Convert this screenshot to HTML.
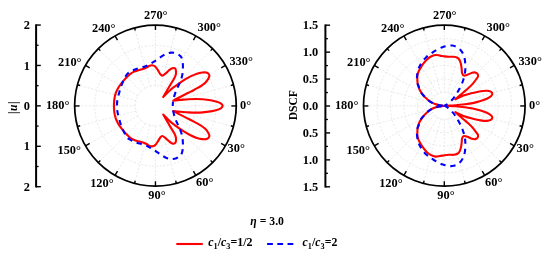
<!DOCTYPE html>
<html lang="en"><head><meta charset="utf-8"><title>Polar plots</title>
<style>html,body{margin:0;padding:0;background:#fff;}body{width:550px;height:256px;overflow:hidden;position:relative;}</style></head>
<body>
<svg width="550" height="256" viewBox="0 0 550 256" style="position:absolute;left:0;top:0;font-family:'Liberation Serif',serif;font-weight:bold;font-size:11.5px;fill:#000">
<rect width="550" height="256" fill="#fff"/>
<g fill="none" stroke="#e0e0e0" stroke-width="0.75" stroke-dasharray="2 1.7"><ellipse cx="155.45" cy="105.80" rx="20.20" ry="20.14"/><ellipse cx="155.45" cy="105.80" rx="40.40" ry="40.27"/><ellipse cx="155.45" cy="105.80" rx="60.60" ry="60.41"/><line x1="175.65" y1="105.80" x2="236.25" y2="105.80"/><line x1="174.96" y1="111.01" x2="233.50" y2="126.65"/><line x1="172.94" y1="115.87" x2="225.42" y2="146.07"/><line x1="169.73" y1="120.04" x2="212.58" y2="162.76"/><line x1="165.55" y1="123.24" x2="195.85" y2="175.56"/><line x1="160.68" y1="125.25" x2="176.36" y2="183.61"/><line x1="155.45" y1="125.94" x2="155.45" y2="186.35"/><line x1="150.22" y1="125.25" x2="134.54" y2="183.61"/><line x1="145.35" y1="123.24" x2="115.05" y2="175.56"/><line x1="141.17" y1="120.04" x2="98.32" y2="162.76"/><line x1="137.96" y1="115.87" x2="85.48" y2="146.07"/><line x1="135.94" y1="111.01" x2="77.40" y2="126.65"/><line x1="135.25" y1="105.80" x2="74.65" y2="105.80"/><line x1="135.94" y1="100.59" x2="77.40" y2="84.95"/><line x1="137.96" y1="95.73" x2="85.48" y2="65.52"/><line x1="141.17" y1="91.56" x2="98.32" y2="48.84"/><line x1="145.35" y1="88.36" x2="115.05" y2="36.04"/><line x1="150.22" y1="86.35" x2="134.54" y2="27.99"/><line x1="155.45" y1="85.66" x2="155.45" y2="25.25"/><line x1="160.68" y1="86.35" x2="176.36" y2="27.99"/><line x1="165.55" y1="88.36" x2="195.85" y2="36.04"/><line x1="169.73" y1="91.56" x2="212.58" y2="48.84"/><line x1="172.94" y1="95.73" x2="225.42" y2="65.52"/><line x1="174.96" y1="100.59" x2="233.50" y2="84.95"/></g>
<g fill="none" stroke="#e0e0e0" stroke-width="0.75" stroke-dasharray="2 1.7"><ellipse cx="444.30" cy="105.80" rx="13.47" ry="13.42"/><ellipse cx="444.30" cy="105.80" rx="26.93" ry="26.85"/><ellipse cx="444.30" cy="105.80" rx="40.40" ry="40.27"/><ellipse cx="444.30" cy="105.80" rx="53.87" ry="53.70"/><ellipse cx="444.30" cy="105.80" rx="67.33" ry="67.12"/><line x1="457.77" y1="105.80" x2="525.10" y2="105.80"/><line x1="457.31" y1="109.27" x2="522.35" y2="126.65"/><line x1="455.96" y1="112.51" x2="514.27" y2="146.07"/><line x1="453.82" y1="115.29" x2="501.43" y2="162.76"/><line x1="451.03" y1="117.43" x2="484.70" y2="175.56"/><line x1="447.79" y1="118.77" x2="465.21" y2="183.61"/><line x1="444.30" y1="119.22" x2="444.30" y2="186.35"/><line x1="440.81" y1="118.77" x2="423.39" y2="183.61"/><line x1="437.57" y1="117.43" x2="403.90" y2="175.56"/><line x1="434.78" y1="115.29" x2="387.17" y2="162.76"/><line x1="432.64" y1="112.51" x2="374.33" y2="146.07"/><line x1="431.29" y1="109.27" x2="366.25" y2="126.65"/><line x1="430.83" y1="105.80" x2="363.50" y2="105.80"/><line x1="431.29" y1="102.33" x2="366.25" y2="84.95"/><line x1="432.64" y1="99.09" x2="374.33" y2="65.52"/><line x1="434.78" y1="96.31" x2="387.17" y2="48.84"/><line x1="437.57" y1="94.17" x2="403.90" y2="36.04"/><line x1="440.81" y1="92.83" x2="423.39" y2="27.99"/><line x1="444.30" y1="92.38" x2="444.30" y2="25.25"/><line x1="447.79" y1="92.83" x2="465.21" y2="27.99"/><line x1="451.03" y1="94.17" x2="484.70" y2="36.04"/><line x1="453.82" y1="96.31" x2="501.43" y2="48.84"/><line x1="455.96" y1="99.09" x2="514.27" y2="65.52"/><line x1="457.31" y1="102.33" x2="522.35" y2="84.95"/></g>
<path d="M163.20 97.10C164.43 95.87 168.63 91.50 170.60 89.70C172.57 87.90 173.57 87.37 175.00 86.30C176.43 85.23 177.45 84.48 179.20 83.30C180.95 82.12 183.62 80.35 185.50 79.20C187.38 78.05 188.60 77.32 190.50 76.40C192.40 75.48 194.93 74.35 196.90 73.70C198.87 73.05 200.74 72.70 202.30 72.50C203.86 72.30 205.20 72.27 206.25 72.50C207.30 72.73 208.07 73.33 208.60 73.90C209.12 74.47 209.47 75.07 209.40 75.90C209.33 76.73 208.85 77.80 208.20 78.90C207.55 80.00 206.60 81.38 205.50 82.50C204.40 83.62 202.78 84.77 201.60 85.60C200.42 86.43 199.68 86.77 198.40 87.50C197.12 88.23 195.57 89.12 193.90 90.00C192.23 90.88 190.62 91.68 188.40 92.80C186.18 93.92 183.13 95.40 180.60 96.70C178.07 98.00 174.43 99.95 173.20 100.60C174.43 100.48 178.07 100.13 180.60 99.90C183.13 99.67 185.83 99.35 188.40 99.20C190.97 99.05 193.60 99.00 196.00 99.00C198.40 99.00 200.37 99.00 202.80 99.20C205.23 99.40 208.25 99.78 210.60 100.20C212.95 100.62 215.20 101.18 216.90 101.70C218.60 102.22 219.83 102.62 220.80 103.30C221.77 103.98 222.70 104.97 222.70 105.80C222.70 106.63 221.77 107.62 220.80 108.30C219.83 108.98 218.60 109.38 216.90 109.90C215.20 110.42 212.95 110.98 210.60 111.40C208.25 111.82 205.23 112.20 202.80 112.40C200.37 112.60 198.40 112.60 196.00 112.60C193.60 112.60 190.97 112.55 188.40 112.40C185.83 112.25 183.13 111.93 180.60 111.70C178.07 111.47 174.43 111.12 173.20 111.00C174.43 111.65 178.07 113.60 180.60 114.90C183.13 116.20 186.18 117.68 188.40 118.80C190.62 119.92 192.23 120.72 193.90 121.60C195.57 122.48 197.12 123.37 198.40 124.10C199.68 124.83 200.42 125.17 201.60 126.00C202.78 126.83 204.40 127.98 205.50 129.10C206.60 130.22 207.55 131.60 208.20 132.70C208.85 133.80 209.33 134.87 209.40 135.70C209.47 136.53 209.12 137.13 208.60 137.70C208.07 138.27 207.30 138.87 206.25 139.10C205.20 139.33 203.86 139.30 202.30 139.10C200.74 138.90 198.87 138.55 196.90 137.90C194.93 137.25 192.40 136.12 190.50 135.20C188.60 134.28 187.38 133.55 185.50 132.40C183.62 131.25 180.95 129.48 179.20 128.30C177.45 127.12 176.43 126.37 175.00 125.30C173.57 124.23 172.57 123.70 170.60 121.90C168.63 120.10 164.43 115.73 163.20 114.50C163.88 115.68 166.05 119.53 167.25 121.60C168.45 123.67 169.21 124.90 170.40 126.90C171.59 128.90 173.48 131.83 174.40 133.60C175.32 135.37 175.65 136.23 175.90 137.50C176.15 138.77 176.10 140.22 175.90 141.20C175.70 142.18 175.30 143.03 174.70 143.40C174.10 143.77 173.22 143.73 172.30 143.40C171.38 143.07 170.37 142.32 169.20 141.40C168.03 140.48 166.47 138.80 165.30 137.90C164.13 137.00 163.05 136.05 162.20 136.00C161.35 135.95 160.92 136.70 160.20 137.60C159.48 138.50 158.73 140.15 157.90 141.40C157.07 142.65 156.18 144.27 155.20 145.10C154.22 145.93 153.05 146.32 152.00 146.40C150.95 146.48 149.73 145.95 148.90 145.60C148.07 145.25 147.97 144.80 147.00 144.30C146.03 143.80 144.53 143.10 143.10 142.60C141.67 142.10 139.88 141.73 138.40 141.30C136.92 140.87 135.48 140.55 134.20 140.00C132.92 139.45 131.87 138.85 130.70 138.00C129.53 137.15 128.48 136.18 127.20 134.90C125.92 133.62 124.23 131.77 123.00 130.30C121.77 128.83 120.65 127.28 119.80 126.10C118.95 124.92 118.55 124.40 117.90 123.20C117.25 122.00 116.47 120.53 115.90 118.90C115.33 117.27 114.82 115.18 114.50 113.40C114.18 111.62 114.08 109.47 114.00 108.20C113.92 106.93 114.00 106.60 114.00 105.80C114.00 105.00 113.92 104.67 114.00 103.40C114.08 102.13 114.18 99.98 114.50 98.20C114.82 96.42 115.33 94.33 115.90 92.70C116.47 91.07 117.25 89.60 117.90 88.40C118.55 87.20 118.95 86.68 119.80 85.50C120.65 84.32 121.77 82.77 123.00 81.30C124.23 79.83 125.92 77.98 127.20 76.70C128.48 75.42 129.53 74.45 130.70 73.60C131.87 72.75 132.92 72.15 134.20 71.60C135.48 71.05 136.92 70.73 138.40 70.30C139.88 69.87 141.67 69.50 143.10 69.00C144.53 68.50 146.03 67.80 147.00 67.30C147.97 66.80 148.07 66.35 148.90 66.00C149.73 65.65 150.95 65.12 152.00 65.20C153.05 65.28 154.22 65.67 155.20 66.50C156.18 67.33 157.07 68.95 157.90 70.20C158.73 71.45 159.48 73.10 160.20 74.00C160.92 74.90 161.35 75.65 162.20 75.60C163.05 75.55 164.13 74.60 165.30 73.70C166.47 72.80 168.03 71.12 169.20 70.20C170.37 69.28 171.38 68.53 172.30 68.20C173.22 67.87 174.10 67.83 174.70 68.20C175.30 68.57 175.70 69.42 175.90 70.40C176.10 71.38 176.15 72.83 175.90 74.10C175.65 75.37 175.32 76.23 174.40 78.00C173.48 79.77 171.59 82.70 170.40 84.70C169.21 86.70 168.45 87.93 167.25 90.00C166.05 92.07 163.88 95.92 163.20 97.10Z" fill="none" stroke="#ff0000" stroke-width="2.1" stroke-linejoin="round"/>
<path d="M172.80 105.80C172.80 105.30 172.70 105.35 172.80 104.30C172.90 103.25 173.07 101.17 173.40 99.50C173.73 97.83 174.28 95.88 174.80 94.30C175.32 92.72 175.88 91.45 176.50 90.00C177.12 88.55 177.82 87.13 178.50 85.60C179.18 84.07 179.98 82.50 180.60 80.80C181.22 79.10 181.83 77.20 182.20 75.40C182.57 73.60 182.68 71.70 182.80 70.00C182.92 68.30 182.98 66.87 182.90 65.20C182.82 63.53 182.68 61.48 182.30 60.00C181.92 58.52 181.58 57.40 180.60 56.30C179.62 55.20 177.97 54.02 176.40 53.40C174.83 52.78 172.85 52.55 171.20 52.60C169.55 52.65 167.97 53.15 166.50 53.70C165.03 54.25 163.82 55.03 162.40 55.90C160.98 56.77 159.40 57.95 158.00 58.90C156.60 59.85 155.42 60.72 154.00 61.60C152.58 62.48 151.00 63.38 149.50 64.20C148.00 65.02 146.62 65.87 145.00 66.50C143.38 67.13 141.47 67.50 139.80 68.00C138.13 68.50 136.47 68.92 135.00 69.50C133.53 70.08 132.28 70.77 131.00 71.50C129.72 72.23 128.37 72.77 127.30 73.90C126.23 75.03 125.43 76.73 124.60 78.30C123.77 79.87 122.98 81.68 122.30 83.30C121.62 84.92 121.02 86.43 120.50 88.00C119.98 89.57 119.65 91.03 119.20 92.70C118.75 94.37 118.15 96.37 117.80 98.00C117.45 99.63 117.23 101.20 117.10 102.50C116.97 103.80 117.00 104.70 117.00 105.80C117.00 106.90 116.97 107.80 117.10 109.10C117.23 110.40 117.45 111.97 117.80 113.60C118.15 115.23 118.75 117.23 119.20 118.90C119.65 120.57 119.98 122.03 120.50 123.60C121.02 125.17 121.62 126.68 122.30 128.30C122.98 129.92 123.77 131.73 124.60 133.30C125.43 134.87 126.23 136.57 127.30 137.70C128.37 138.83 129.72 139.37 131.00 140.10C132.28 140.83 133.53 141.52 135.00 142.10C136.47 142.68 138.13 143.10 139.80 143.60C141.47 144.10 143.38 144.47 145.00 145.10C146.62 145.73 148.00 146.58 149.50 147.40C151.00 148.22 152.58 149.12 154.00 150.00C155.42 150.88 156.60 151.75 158.00 152.70C159.40 153.65 160.98 154.83 162.40 155.70C163.82 156.57 165.03 157.35 166.50 157.90C167.97 158.45 169.55 158.95 171.20 159.00C172.85 159.05 174.83 158.82 176.40 158.20C177.97 157.58 179.62 156.40 180.60 155.30C181.58 154.20 181.92 153.08 182.30 151.60C182.68 150.12 182.82 148.07 182.90 146.40C182.98 144.73 182.92 143.30 182.80 141.60C182.68 139.90 182.57 138.00 182.20 136.20C181.83 134.40 181.22 132.50 180.60 130.80C179.98 129.10 179.18 127.53 178.50 126.00C177.82 124.47 177.12 123.05 176.50 121.60C175.88 120.15 175.32 118.88 174.80 117.30C174.28 115.72 173.73 113.77 173.40 112.10C173.07 110.43 172.90 108.35 172.80 107.30C172.70 106.25 172.80 106.30 172.80 105.80" fill="none" stroke="#0000ff" stroke-width="2.1" stroke-dasharray="5.30 4.74" stroke-dashoffset="1.15"/>
<path d="M444.50 105.80C443.70 105.70 441.28 105.50 439.70 105.20C438.12 104.90 436.57 104.58 435.00 104.00C433.43 103.42 431.73 102.60 430.30 101.70C428.87 100.80 427.70 99.83 426.40 98.60C425.10 97.37 423.60 95.73 422.50 94.30C421.40 92.87 420.48 91.30 419.80 90.00C419.12 88.70 418.77 87.63 418.40 86.50C418.03 85.37 417.78 84.67 417.60 83.20C417.42 81.73 417.27 79.30 417.30 77.70C417.33 76.10 417.42 74.95 417.80 73.60C418.18 72.25 418.78 71.13 419.60 69.60C420.43 68.07 421.57 66.05 422.75 64.40C423.93 62.75 425.39 60.98 426.70 59.70C428.01 58.42 429.13 57.48 430.60 56.70C432.07 55.92 433.93 55.18 435.50 55.00C437.07 54.82 438.50 55.37 440.00 55.60C441.50 55.83 443.05 56.20 444.50 56.40C445.95 56.60 447.12 56.73 448.70 56.80C450.28 56.87 452.55 56.63 454.00 56.80C455.45 56.97 456.52 57.33 457.40 57.80C458.28 58.27 458.73 58.65 459.30 59.60C459.87 60.55 460.42 62.07 460.80 63.50C461.18 64.93 461.38 66.57 461.60 68.20C461.82 69.83 461.72 72.07 462.10 73.30C462.48 74.53 463.02 75.35 463.90 75.60C464.78 75.85 466.03 75.27 467.40 74.80C468.77 74.33 470.79 73.18 472.10 72.80C473.41 72.42 474.33 72.30 475.25 72.50C476.17 72.70 477.14 73.32 477.60 74.00C478.06 74.68 478.20 75.77 478.00 76.60C477.80 77.43 477.25 77.83 476.40 79.00C475.55 80.17 474.27 82.05 472.90 83.60C471.53 85.15 469.77 86.85 468.20 88.30C466.63 89.75 464.73 91.25 463.50 92.30C462.27 93.35 462.17 93.42 460.80 94.60C459.43 95.78 456.22 98.60 455.30 99.40C456.65 98.77 460.48 96.68 463.40 95.60C466.32 94.52 469.93 93.63 472.80 92.90C475.67 92.17 478.25 91.57 480.60 91.20C482.95 90.83 485.20 90.62 486.90 90.70C488.60 90.78 489.90 91.20 490.80 91.70C491.70 92.20 492.23 92.98 492.30 93.70C492.37 94.42 492.10 95.15 491.20 96.00C490.30 96.85 488.67 97.95 486.90 98.80C485.13 99.65 482.95 100.38 480.60 101.10C478.25 101.82 475.40 102.57 472.80 103.10C470.20 103.63 467.87 103.93 465.00 104.30C462.13 104.67 458.47 105.07 455.60 105.30C452.73 105.53 449.65 105.62 447.80 105.70C445.95 105.78 445.05 105.78 444.50 105.80C445.05 105.82 445.95 105.82 447.80 105.90C449.65 105.98 452.73 106.07 455.60 106.30C458.47 106.53 462.13 106.93 465.00 107.30C467.87 107.67 470.20 107.97 472.80 108.50C475.40 109.03 478.25 109.78 480.60 110.50C482.95 111.22 485.13 111.95 486.90 112.80C488.67 113.65 490.30 114.75 491.20 115.60C492.10 116.45 492.37 117.18 492.30 117.90C492.23 118.62 491.70 119.40 490.80 119.90C489.90 120.40 488.60 120.82 486.90 120.90C485.20 120.98 482.95 120.77 480.60 120.40C478.25 120.03 475.67 119.43 472.80 118.70C469.93 117.97 466.32 117.08 463.40 116.00C460.48 114.92 456.65 112.83 455.30 112.20C456.22 113.00 459.43 115.82 460.80 117.00C462.17 118.18 462.27 118.25 463.50 119.30C464.73 120.35 466.63 121.85 468.20 123.30C469.77 124.75 471.53 126.45 472.90 128.00C474.27 129.55 475.55 131.43 476.40 132.60C477.25 133.77 477.80 134.17 478.00 135.00C478.20 135.83 478.06 136.92 477.60 137.60C477.14 138.28 476.17 138.90 475.25 139.10C474.33 139.30 473.41 139.18 472.10 138.80C470.79 138.42 468.77 137.27 467.40 136.80C466.03 136.33 464.78 135.75 463.90 136.00C463.02 136.25 462.48 137.07 462.10 138.30C461.72 139.53 461.82 141.77 461.60 143.40C461.38 145.03 461.18 146.67 460.80 148.10C460.42 149.53 459.87 151.05 459.30 152.00C458.73 152.95 458.28 153.33 457.40 153.80C456.52 154.27 455.45 154.63 454.00 154.80C452.55 154.97 450.28 154.73 448.70 154.80C447.12 154.87 445.95 155.00 444.50 155.20C443.05 155.40 441.50 155.77 440.00 156.00C438.50 156.23 437.07 156.78 435.50 156.60C433.93 156.42 432.07 155.68 430.60 154.90C429.13 154.12 428.01 153.18 426.70 151.90C425.39 150.62 423.93 148.85 422.75 147.20C421.57 145.55 420.43 143.53 419.60 142.00C418.78 140.47 418.18 139.35 417.80 138.00C417.42 136.65 417.33 135.50 417.30 133.90C417.27 132.30 417.42 129.87 417.60 128.40C417.78 126.93 418.03 126.23 418.40 125.10C418.77 123.97 419.12 122.90 419.80 121.60C420.48 120.30 421.40 118.73 422.50 117.30C423.60 115.87 425.10 114.23 426.40 113.00C427.70 111.77 428.87 110.80 430.30 109.90C431.73 109.00 433.43 108.18 435.00 107.60C436.57 107.02 438.12 106.70 439.70 106.40C441.28 106.10 443.70 105.90 444.50 105.80Z" fill="none" stroke="#ff0000" stroke-width="2.1" stroke-linejoin="round"/>
<path d="M444.50 105.80C443.70 105.70 441.28 105.50 439.70 105.20C438.12 104.90 436.53 104.55 435.00 104.00C433.47 103.45 431.93 102.80 430.50 101.90C429.07 101.00 427.80 99.93 426.40 98.60C425.00 97.27 423.23 95.33 422.10 93.90C420.97 92.47 420.18 91.32 419.60 90.00C419.02 88.68 418.97 87.13 418.60 86.00C418.23 84.87 417.67 84.58 417.40 83.20C417.13 81.82 417.02 79.22 417.00 77.70C416.98 76.18 417.08 75.45 417.30 74.10C417.52 72.75 417.92 70.90 418.30 69.60C418.68 68.30 418.93 67.65 419.60 66.30C420.27 64.95 421.23 62.98 422.30 61.50C423.37 60.02 424.75 58.60 426.00 57.40C427.25 56.20 428.48 55.27 429.80 54.30C431.12 53.33 432.48 52.48 433.90 51.60C435.32 50.72 436.80 49.77 438.30 49.00C439.80 48.23 441.35 47.52 442.90 47.00C444.45 46.48 446.02 46.14 447.60 45.90C449.18 45.66 450.70 45.28 452.40 45.55C454.10 45.82 456.27 46.54 457.80 47.50C459.33 48.46 460.62 49.97 461.60 51.30C462.58 52.63 463.15 54.05 463.70 55.50C464.25 56.95 464.63 58.38 464.90 60.00C465.17 61.62 465.24 63.45 465.30 65.20C465.36 66.95 465.38 68.78 465.25 70.50C465.12 72.22 464.86 73.83 464.50 75.50C464.14 77.17 463.67 78.83 463.10 80.50C462.53 82.17 461.85 83.87 461.10 85.50C460.35 87.13 459.47 88.75 458.60 90.30C457.73 91.85 456.85 93.35 455.90 94.80C454.95 96.25 454.22 97.52 452.90 99.00C451.58 100.48 449.40 102.57 448.00 103.70C446.60 104.83 445.08 105.45 444.50 105.80" fill="none" stroke="#0000ff" stroke-width="2.1" stroke-dasharray="5.30 4.94" stroke-dashoffset="8.32"/>
<path d="M444.50 105.80C445.08 106.15 446.60 106.77 448.00 107.90C449.40 109.03 451.58 111.12 452.90 112.60C454.22 114.08 454.95 115.35 455.90 116.80C456.85 118.25 457.73 119.75 458.60 121.30C459.47 122.85 460.35 124.47 461.10 126.10C461.85 127.73 462.53 129.43 463.10 131.10C463.67 132.77 464.14 134.43 464.50 136.10C464.86 137.77 465.12 139.38 465.25 141.10C465.38 142.82 465.36 144.65 465.30 146.40C465.24 148.15 465.17 149.98 464.90 151.60C464.63 153.22 464.25 154.65 463.70 156.10C463.15 157.55 462.58 158.97 461.60 160.30C460.62 161.63 459.33 163.14 457.80 164.10C456.27 165.06 454.10 165.78 452.40 166.05C450.70 166.32 449.18 165.94 447.60 165.70C446.02 165.46 444.45 165.12 442.90 164.60C441.35 164.08 439.80 163.37 438.30 162.60C436.80 161.83 435.32 160.88 433.90 160.00C432.48 159.12 431.12 158.27 429.80 157.30C428.48 156.33 427.25 155.40 426.00 154.20C424.75 153.00 423.37 151.58 422.30 150.10C421.23 148.62 420.27 146.65 419.60 145.30C418.93 143.95 418.68 143.30 418.30 142.00C417.92 140.70 417.52 138.85 417.30 137.50C417.08 136.15 416.98 135.42 417.00 133.90C417.02 132.38 417.13 129.78 417.40 128.40C417.67 127.02 418.23 126.73 418.60 125.60C418.97 124.47 419.02 122.92 419.60 121.60C420.18 120.28 420.97 119.13 422.10 117.70C423.23 116.27 425.00 114.33 426.40 113.00C427.80 111.67 429.07 110.60 430.50 109.70C431.93 108.80 433.47 108.15 435.00 107.60C436.53 107.05 438.12 106.70 439.70 106.40C441.28 106.10 443.70 105.90 444.50 105.80" fill="none" stroke="#0000ff" stroke-width="2.1" stroke-dasharray="5.30 4.80" stroke-dashoffset="0.60"/>
<g stroke="#000" stroke-width="1.4"><line x1="236.25" y1="105.95" x2="231.35" y2="105.95"/><line x1="233.50" y1="126.45" x2="230.79" y2="125.72"/><line x1="225.42" y1="145.88" x2="221.18" y2="143.42"/><line x1="212.58" y1="162.56" x2="210.60" y2="160.58"/><line x1="195.85" y1="175.36" x2="193.40" y2="171.11"/><line x1="176.36" y1="183.41" x2="175.64" y2="180.70"/><line x1="155.45" y1="186.15" x2="155.45" y2="181.25"/><line x1="134.54" y1="183.41" x2="135.26" y2="180.70"/><line x1="115.05" y1="175.36" x2="117.50" y2="171.11"/><line x1="98.32" y1="162.56" x2="100.30" y2="160.58"/><line x1="85.48" y1="145.88" x2="89.72" y2="143.42"/><line x1="77.40" y1="126.45" x2="80.11" y2="125.72"/><line x1="74.65" y1="105.95" x2="79.55" y2="105.95"/><line x1="77.40" y1="84.75" x2="80.11" y2="85.48"/><line x1="85.48" y1="65.32" x2="89.72" y2="67.77"/><line x1="98.32" y1="48.64" x2="100.30" y2="50.62"/><line x1="115.05" y1="35.84" x2="117.50" y2="40.09"/><line x1="134.54" y1="27.79" x2="135.26" y2="30.50"/><line x1="155.45" y1="25.05" x2="155.45" y2="29.95"/><line x1="176.36" y1="27.79" x2="175.64" y2="30.50"/><line x1="195.85" y1="35.84" x2="193.40" y2="40.09"/><line x1="212.58" y1="48.64" x2="210.60" y2="50.62"/><line x1="225.42" y1="65.32" x2="221.18" y2="67.77"/><line x1="233.50" y1="84.75" x2="230.79" y2="85.48"/></g><ellipse cx="155.45" cy="105.60" rx="80.80" ry="80.55" fill="none" stroke="#000" stroke-width="1.75"/>
<g stroke="#000" stroke-width="1.4"><line x1="525.10" y1="105.95" x2="520.20" y2="105.95"/><line x1="522.35" y1="126.45" x2="519.64" y2="125.72"/><line x1="514.27" y1="145.88" x2="510.03" y2="143.42"/><line x1="501.43" y1="162.56" x2="499.45" y2="160.58"/><line x1="484.70" y1="175.36" x2="482.25" y2="171.11"/><line x1="465.21" y1="183.41" x2="464.49" y2="180.70"/><line x1="444.30" y1="186.15" x2="444.30" y2="181.25"/><line x1="423.39" y1="183.41" x2="424.11" y2="180.70"/><line x1="403.90" y1="175.36" x2="406.35" y2="171.11"/><line x1="387.17" y1="162.56" x2="389.15" y2="160.58"/><line x1="374.33" y1="145.88" x2="378.57" y2="143.42"/><line x1="366.25" y1="126.45" x2="368.96" y2="125.72"/><line x1="363.50" y1="105.95" x2="368.40" y2="105.95"/><line x1="366.25" y1="84.75" x2="368.96" y2="85.48"/><line x1="374.33" y1="65.32" x2="378.57" y2="67.77"/><line x1="387.17" y1="48.64" x2="389.15" y2="50.62"/><line x1="403.90" y1="35.84" x2="406.35" y2="40.09"/><line x1="423.39" y1="27.79" x2="424.11" y2="30.50"/><line x1="444.30" y1="25.05" x2="444.30" y2="29.95"/><line x1="465.21" y1="27.79" x2="464.49" y2="30.50"/><line x1="484.70" y1="35.84" x2="482.25" y2="40.09"/><line x1="501.43" y1="48.64" x2="499.45" y2="50.62"/><line x1="514.27" y1="65.32" x2="510.03" y2="67.77"/><line x1="522.35" y1="84.75" x2="519.64" y2="85.48"/></g><ellipse cx="444.30" cy="105.60" rx="80.80" ry="80.55" fill="none" stroke="#000" stroke-width="1.75"/>
<text transform="translate(144.10 18.80) scale(1.075 1)" text-anchor="start">270°</text>
<text transform="translate(92.00 32.00) scale(1.075 1)" text-anchor="start">240°</text>
<text transform="translate(58.10 66.20) scale(1.075 1)" text-anchor="start">210°</text>
<text transform="translate(45.90 109.40) scale(1.075 1)" text-anchor="start">180°</text>
<text transform="translate(57.50 154.00) scale(1.075 1)" text-anchor="start">150°</text>
<text transform="translate(90.20 187.20) scale(1.075 1)" text-anchor="start">120°</text>
<text transform="translate(148.30 199.40) scale(1.075 1)" text-anchor="start">90°</text>
<text transform="translate(196.10 185.90) scale(1.075 1)" text-anchor="start">60°</text>
<text transform="translate(227.60 152.40) scale(1.075 1)" text-anchor="start">30°</text>
<text transform="translate(240.00 109.20) scale(1.075 1)" text-anchor="start">0°</text>
<text transform="translate(229.40 65.20) scale(1.075 1)" text-anchor="start">330°</text>
<text transform="translate(197.50 31.40) scale(1.075 1)" text-anchor="start">300°</text>
<text transform="translate(433.10 18.80) scale(1.075 1)" text-anchor="start">270°</text>
<text transform="translate(381.00 32.00) scale(1.075 1)" text-anchor="start">240°</text>
<text transform="translate(347.10 66.20) scale(1.075 1)" text-anchor="start">210°</text>
<text transform="translate(334.90 109.40) scale(1.075 1)" text-anchor="start">180°</text>
<text transform="translate(346.50 154.00) scale(1.075 1)" text-anchor="start">150°</text>
<text transform="translate(379.20 187.20) scale(1.075 1)" text-anchor="start">120°</text>
<text transform="translate(437.30 199.40) scale(1.075 1)" text-anchor="start">90°</text>
<text transform="translate(485.10 185.90) scale(1.075 1)" text-anchor="start">60°</text>
<text transform="translate(516.60 152.40) scale(1.075 1)" text-anchor="start">30°</text>
<text transform="translate(529.00 109.20) scale(1.075 1)" text-anchor="start">0°</text>
<text transform="translate(518.40 65.20) scale(1.075 1)" text-anchor="start">330°</text>
<text transform="translate(486.50 31.40) scale(1.075 1)" text-anchor="start">300°</text>
<line x1="36.10" y1="24.30" x2="36.10" y2="187.45" stroke="#000" stroke-width="2"/>
<line x1="36.10" y1="25.05" x2="40.80" y2="25.05" stroke="#000" stroke-width="1.4"/>
<text transform="translate(30.00 29.25) scale(1.075 1)" text-anchor="end">2</text>
<line x1="36.10" y1="45.26" x2="38.60" y2="45.26" stroke="#000" stroke-width="1.3"/>
<line x1="36.10" y1="65.46" x2="40.80" y2="65.46" stroke="#000" stroke-width="1.4"/>
<text transform="translate(30.00 69.66) scale(1.075 1)" text-anchor="end">1</text>
<line x1="36.10" y1="85.67" x2="38.60" y2="85.67" stroke="#000" stroke-width="1.3"/>
<line x1="36.10" y1="105.87" x2="40.80" y2="105.87" stroke="#000" stroke-width="1.4"/>
<text transform="translate(30.00 110.07) scale(1.075 1)" text-anchor="end">0</text>
<line x1="36.10" y1="126.08" x2="38.60" y2="126.08" stroke="#000" stroke-width="1.3"/>
<line x1="36.10" y1="146.29" x2="40.80" y2="146.29" stroke="#000" stroke-width="1.4"/>
<text transform="translate(30.00 150.49) scale(1.075 1)" text-anchor="end">1</text>
<line x1="36.10" y1="166.49" x2="38.60" y2="166.49" stroke="#000" stroke-width="1.3"/>
<line x1="36.10" y1="186.70" x2="40.80" y2="186.70" stroke="#000" stroke-width="1.4"/>
<text transform="translate(30.00 190.90) scale(1.075 1)" text-anchor="end">2</text>
<line x1="325.40" y1="24.45" x2="325.40" y2="187.55" stroke="#000" stroke-width="2"/>
<line x1="325.40" y1="25.20" x2="330.10" y2="25.20" stroke="#000" stroke-width="1.4"/>
<text transform="translate(318.20 29.40) scale(1.075 1)" text-anchor="end">1.5</text>
<line x1="325.40" y1="38.67" x2="327.90" y2="38.67" stroke="#000" stroke-width="1.3"/>
<line x1="325.40" y1="52.13" x2="330.10" y2="52.13" stroke="#000" stroke-width="1.4"/>
<text transform="translate(318.20 56.33) scale(1.075 1)" text-anchor="end">1.0</text>
<line x1="325.40" y1="65.60" x2="327.90" y2="65.60" stroke="#000" stroke-width="1.3"/>
<line x1="325.40" y1="79.07" x2="330.10" y2="79.07" stroke="#000" stroke-width="1.4"/>
<text transform="translate(318.20 83.27) scale(1.075 1)" text-anchor="end">0.5</text>
<line x1="325.40" y1="92.53" x2="327.90" y2="92.53" stroke="#000" stroke-width="1.3"/>
<line x1="325.40" y1="106.00" x2="330.10" y2="106.00" stroke="#000" stroke-width="1.4"/>
<text transform="translate(318.20 110.20) scale(1.075 1)" text-anchor="end">0.0</text>
<line x1="325.40" y1="119.47" x2="327.90" y2="119.47" stroke="#000" stroke-width="1.3"/>
<line x1="325.40" y1="132.93" x2="330.10" y2="132.93" stroke="#000" stroke-width="1.4"/>
<text transform="translate(318.20 137.13) scale(1.075 1)" text-anchor="end">0.5</text>
<line x1="325.40" y1="146.40" x2="327.90" y2="146.40" stroke="#000" stroke-width="1.3"/>
<line x1="325.40" y1="159.87" x2="330.10" y2="159.87" stroke="#000" stroke-width="1.4"/>
<text transform="translate(318.20 164.07) scale(1.075 1)" text-anchor="end">1.0</text>
<line x1="325.40" y1="173.33" x2="327.90" y2="173.33" stroke="#000" stroke-width="1.3"/>
<line x1="325.40" y1="186.80" x2="330.10" y2="186.80" stroke="#000" stroke-width="1.4"/>
<text transform="translate(318.20 191.00) scale(1.075 1)" text-anchor="end">1.5</text>
<text transform="translate(16.6 107.7) rotate(-90)" text-anchor="middle">|<tspan font-style="italic" dx="0.5">u</tspan><tspan dx="0.5">|</tspan></text>
<text transform="translate(297.4 105.2) rotate(-90)" text-anchor="middle">DSCF</text>
<text transform="translate(250.30 224.90) scale(1.020 1)" text-anchor="start"><tspan font-style="italic">η</tspan> = 3.0</text>
<line x1="176.3" y1="244.0" x2="202.8" y2="244.0" stroke="#ff0000" stroke-width="2.1"/>
<line x1="267.1" y1="244.0" x2="293.3" y2="244.0" stroke="#0000ff" stroke-width="2.2" stroke-dasharray="5.8 4.4"/>
<text transform="translate(208.20 246.40) scale(1.040 1)" text-anchor="start"><tspan font-style="italic">c</tspan><tspan font-size="8" dy="2.5">1</tspan><tspan dy="-2.5">/</tspan><tspan font-style="italic">c</tspan><tspan font-size="8" dy="2.5">3</tspan><tspan dy="-2.5">=1/2</tspan></text>
<text transform="translate(302.60 246.40) scale(1.030 1)" text-anchor="start"><tspan font-style="italic">c</tspan><tspan font-size="8" dy="2.5">1</tspan><tspan dy="-2.5">/</tspan><tspan font-style="italic">c</tspan><tspan font-size="8" dy="2.5">3</tspan><tspan dy="-2.5">=2</tspan></text>
</svg>
</body></html>
